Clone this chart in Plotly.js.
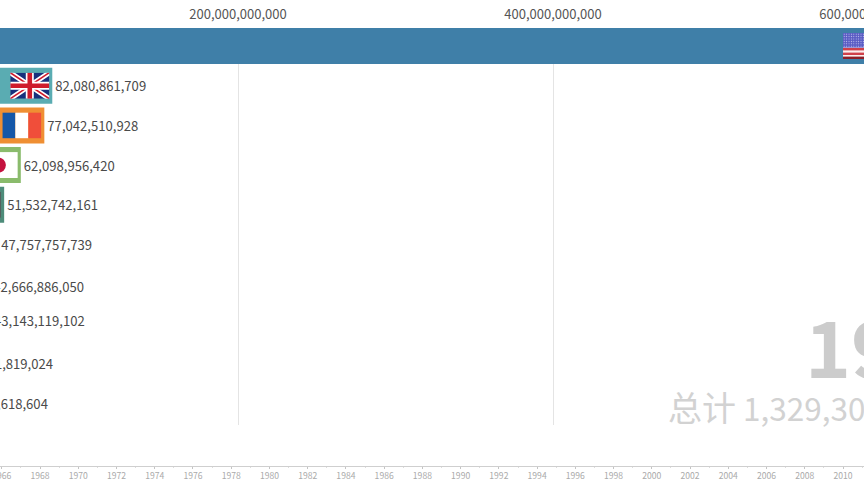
<!DOCTYPE html>
<html><head><meta charset="utf-8">
<script src="https://cdn.plot.ly/plotly-3.0.1.min.js"></script>
<style>html,body{margin:0;padding:0;width:864px;height:486px;overflow:hidden;background:#fff}
#c{position:absolute;left:-200px;top:0;width:1700px;height:486px}</style></head>
<body><div id="c"></div>
<script>
// Data (clipped digits are estimates)
const countries = ["USA","UK","France","Japan","Fifth","Sixth","Seventh","Eighth","Ninth","Tenth"];
const gdp = [610800000000,82080861709,77042510928,62098956420,51532742161,47757757739,42666886050,43143119102,22961819024,19700618604];
const ranks = [1,2,3,4,5,6,7.05,7.92,9,10];
const barColors = ["#3f7fa8","#5aacb2","#ef8f33","#8abb6c","#4e8c7a","#6a8fc0","#c77","#a9c","#bb9","#9bb"];
const years = [1960,1962,1964,1966,1968,1970,1972,1974,1976,1978,1980,1982,1984,1986,1988,1990,1992,1994,1996,1998,2000,2002,2004,2006,2008,2010,2012,2014,2016,2018];
const yearLabel = "1960";
const totalPrefix = "总计";
const totalValue = "1,329,305,462,118";

const svgFlags = {
 USA:'<svg xmlns="http://www.w3.org/2000/svg" viewBox="0 0 39 26" preserveAspectRatio="none"><defs><pattern id="s" width="2.4" height="2.4" patternUnits="userSpaceOnUse"><rect width="2.4" height="2.4" fill="#5a5cc4"/><circle cx="1.2" cy="1.2" r=".55" fill="#c9c9f0"/></pattern></defs><rect width="39" height="26" fill="#fbeeee"/><g fill="#d0404a"><rect y="15" width="39" height="2.4"/><rect y="19.6" width="39" height="2.4"/></g><rect y="23.6" width="39" height="2.4" fill="#8e1f28"/><rect width="39" height="14.6" fill="url(#s)"/></svg>',
 UK:'<svg xmlns="http://www.w3.org/2000/svg" viewBox="0 0 39 26" preserveAspectRatio="none"><rect width="39" height="26" fill="#17307c"/><path d="M0 0L39 26M39 0L0 26" stroke="#fff" stroke-width="5"/><path d="M0 0L39 26M39 0L0 26" stroke="#cf1b2b" stroke-width="1.6"/><path d="M19.5 0V26M0 13H39" stroke="#fff" stroke-width="8"/><path d="M19.5 0V26M0 13H39" stroke="#cf1b2b" stroke-width="4.6"/></svg>',
 France:'<svg xmlns="http://www.w3.org/2000/svg" viewBox="0 0 39 26" preserveAspectRatio="none"><rect width="13" height="26" fill="#1557a8"/><rect x="13" width="13" height="26" fill="#fff"/><rect x="26" width="13" height="26" fill="#f04e3a"/></svg>',
 Japan:'<svg xmlns="http://www.w3.org/2000/svg" viewBox="0 0 39 26" preserveAspectRatio="none"><rect width="39" height="26" fill="#fff"/><circle cx="19.5" cy="13" r="7.6" fill="#c4123f"/></svg>',
 Fifth:'<svg xmlns="http://www.w3.org/2000/svg" viewBox="0 0 39 26" preserveAspectRatio="none"><rect width="39" height="26" fill="#55605e"/></svg>'
};

const W = 1700, H = 486, LEFT = 200, PX_PER_UNIT = 315/200e9, ZERO_PAGE = -77;
const zeroDiv = ZERO_PAGE + LEFT;
const rowPx = 39.7;
const plotTop = 28, plotBottom = 425;
const yMin = 1 - 18/rowPx, yMax = yMin + (plotBottom-plotTop)/rowPx;

const images = countries.filter(c => svgFlags[c]).map(c => {
  const i = countries.indexOf(c);
  return {source:'data:image/svg+xml;charset=utf-8,'+encodeURIComponent(svgFlags[c]),
    xref:'x',yref:'y',x:gdp[i]-3/PX_PER_UNIT,y:ranks[i],xanchor:'right',yanchor:'middle',
    sizex:39/PX_PER_UNIT,sizey:26/rowPx,sizing:'stretch',layer:'above'};
});

const font = '"Noto Sans CJK SC","Noto Sans",sans-serif';
const pageX = px => (px+LEFT)/W;
const pageY = px => 1-px/H;

const data = [
 {type:'bar',orientation:'h',x:gdp,y:ranks,width:36/rowPx,
  marker:{color:barColors,line:{width:0}},
  texttemplate:'%{x:,}',textposition:'outside',cliponaxis:false,constraintext:'none',
  textfont:{family:font,size:13.1,color:'#4a4a4a'},hoverinfo:'skip'},
 {type:'scatter',mode:'lines',x:years,y:years.map(()=>0),xaxis:'x2',yaxis:'y2',
  line:{color:'rgba(0,0,0,0)',width:0},hoverinfo:'skip'}
];
const layout = {
 width:W,height:H,margin:{l:0,r:0,t:0,b:0,pad:0},paper_bgcolor:'#fff',plot_bgcolor:'#fff',
 showlegend:false,
 xaxis:{domain:[zeroDiv/W,1],range:[0,(W-zeroDiv)/PX_PER_UNIT],side:'top',anchor:'y',dtick:200e9,tickformat:',',
   showgrid:true,gridcolor:'#e4e4e4',gridwidth:1,zeroline:false,showline:false,
   ticks:'outside',ticklen:3,tickcolor:'rgba(0,0,0,0)',tickfont:{family:font,size:13,color:'#555'},automargin:false},
 yaxis:{domain:[pageY(plotBottom),pageY(plotTop)],range:[yMax,yMin],visible:false,anchor:'x'},
 xaxis2:{domain:[(1960-1968)*19.12/W+(40+LEFT)/W,(2018-1968)*19.12/W+(40+LEFT)/W],range:[1960,2018],anchor:'y2',
   tick0:1960,dtick:2,tickformat:'d',showgrid:false,zeroline:false,showline:true,linecolor:'#cfcfcf',linewidth:1,
   ticks:'outside',ticklen:2,tickcolor:'#c4c4c4',tickfont:{family:font,size:8.6,color:'#aaa'},
   minor:{dtick:1,ticks:'outside',ticklen:1,tickcolor:'#ddd',showgrid:false},automargin:false},
 yaxis2:{domain:[pageY(465.5),pageY(455)],range:[0,1],visible:false,anchor:'x2'},
 images:images,
 annotations:[
  {xref:'paper',yref:'paper',x:pageX(803),y:pageY(344),xanchor:'left',yanchor:'middle',showarrow:false,text:yearLabel,
   font:{family:font,size:78,weight:700,color:'#cccccc'}},
  {xref:'paper',yref:'paper',x:pageX(666),y:pageY(406),xanchor:'left',yanchor:'middle',showarrow:false,text:totalPrefix,
   font:{family:font,size:34,color:'#d2d2d2'}},
  {xref:'paper',yref:'paper',x:pageX(741),y:pageY(407),xanchor:'left',yanchor:'middle',showarrow:false,text:totalValue,
   font:{family:font,size:31.5,color:'#d2d2d2'}}
 ]
};
Plotly.newPlot('c',data,layout,{displayModeBar:false,staticPlot:true});
</script></body></html>
